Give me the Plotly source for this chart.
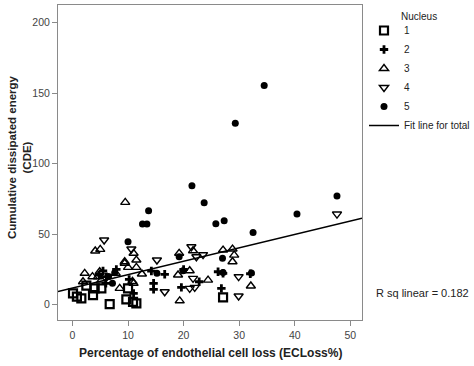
import plotly.graph_objects as go

# ---- data ----
n1_x = [0.1, 0.8, 1.6, 3.7, 4.0, 5.2, 2.5, 6.7, 9.7, 10.9, 10.0, 11.5, 27.1]
n1_y = [8.1, 5.7, 4.5, 6.9, 11.6, 11.6, 13.5, 0.5, 3.8, 2.1, 11.6, 1.0, 5.2]

n2_x = [6.1, 6.0, 7.9, 10.2, 11.0, 14.2, 16.6, 14.6, 14.6, 19.6, 22.8, 26.8, 26.2, 27.1, 5.5, 20.0, 4.8, 32.0]
n2_y = [19.9, 15.2, 25.1, 18.0, 8.1, 23.9, 21.6, 15.2, 10.9, 12.3, 16.3, 11.6, 23.4, 22.3, 24.0, 25.0, 21.0, 22.0]

n3_x = [9.5, 4.1, 5.0, 11.0, 21.7, 27.1, 28.8, 29.1, 28.8, 9.4, 11.5, 10.0, 11.5, 9.4, 2.2, 1.9, 3.6,
        4.9, 4.6, 5.2, 7.8, 8.5, 11.0, 12.5, 19.0, 21.1, 24.4, 19.2, 19.3, 32.1, 10.8]
n3_y = [72.6, 38.1, 39.3, 36.5, 38.3, 38.8, 39.5, 35.2, 30.5, 30.5, 31.7, 26.5, 26.5, 29.4, 22.3, 16.3, 19.9,
        23.4, 19.9, 17.5, 22.3, 11.6, 15.2, 21.8, 21.1, 24.1, 17.5, 36.5, 2.8, 13.3, 16.5]

n4_x = [5.7, 10.6, 21.4, 15.2, 22.3, 23.5, 21.7, 16.6, 21.1, 22.0, 29.9, 29.9, 47.6]
n4_y = [45.9, 39.5, 41.1, 31.7, 34.0, 35.5, 18.7, 9.2, 11.6, 12.3, 19.9, 6.2, 64.3]

n5_x = [34.5, 29.3, 47.6, 40.4, 13.7, 12.6, 13.4, 21.5, 23.7, 25.8, 27.3, 32.5, 10.0, 19.2, 27.0,
        15.2, 19.9, 7.6, 7.2, 27.1, 32.2, 6.5]
n5_y = [155.5, 128.6, 77.1, 64.3, 66.7, 57.2, 57.2, 84.4, 72.3, 57.4, 59.6, 51.3, 44.7, 34.0, 32.9,
        22.3, 24.1, 22.7, 15.2, 22.8, 22.5, 20.0]

fit_intercept = 11.8
fit_slope = 0.95
r_sq = 0.182

x_range = [-2.6, 52.1]
y_range = [-10.8, 212.5]
x_ticks = [0, 10, 20, 30, 40, 50]
y_ticks = [0, 50, 100, 150, 200]

series = [
    ("1", n1_x, n1_y, dict(symbol="square-open", size=8, line=dict(width=2.2, color="black"))),
    ("2", n2_x, n2_y, dict(symbol="cross", size=7, line=dict(width=0))),
    ("3", n3_x, n3_y, dict(symbol="triangle-up-open", size=8, line=dict(width=1.4, color="black"))),
    ("4", n4_x, n4_y, dict(symbol="triangle-down-open", size=8, line=dict(width=1.4, color="black"))),
    ("5", n5_x, n5_y, dict(symbol="circle", size=7, line=dict(width=0))),
]

FONT = "Liberation Sans, Arial"

fig = go.Figure()
for name, xs, ys, mk in series:
    fig.add_trace(go.Scatter(x=xs, y=ys, mode="markers", name=name,
                             marker=dict(color="black", **mk)))

fit_x = x_range
fit_y = [fit_intercept + fit_slope * v for v in fit_x]
fig.add_trace(go.Scatter(x=fit_x, y=fit_y, mode="lines", name="Fit line for total",
                         line=dict(color="black", width=1.5)))

axis_common = dict(showgrid=False, zeroline=False, showline=True, mirror=True,
                   linecolor="#8a8a8a", linewidth=1, ticks="outside", ticklen=5,
                   tickcolor="#8a8a8a", tickfont=dict(family=FONT, size=10.5, color="#444"))

W, H = 474 - 58 - 112, 366 - 5 - 46

fig.update_layout(
    width=474, height=366,
    margin=dict(l=58, r=112, t=5, b=46, autoexpand=False),
    paper_bgcolor="white", plot_bgcolor="white",
    xaxis=dict(range=x_range, tickvals=x_ticks, **axis_common),
    yaxis=dict(range=y_range, tickvals=y_ticks, **axis_common),
    showlegend=True,
    legend=dict(x=(364 - 58) / W, y=(320 - 16) / H, xanchor="left", yanchor="top", itemwidth=30,
                font=dict(family=FONT, size=10, color="#222"),
                bgcolor="rgba(0,0,0,0)", tracegroupgap=0),
    font=dict(family=FONT),
)

fig.add_annotation(text="Nucleus", xref="paper", yref="paper", x=(399 - 58) / W, y=(320 - 17) / H,
                   xanchor="left", yanchor="middle", showarrow=False,
                   font=dict(family=FONT, size=10, color="#222"))
fig.add_annotation(text=f"R sq linear = {r_sq}", xref="paper", yref="paper", x=(374 - 58) / W,
                   y=(320 - 293) / H, xanchor="left", yanchor="middle", showarrow=False,
                   font=dict(family=FONT, size=11, color="#222"))
fig.add_annotation(text="<b>Percentage of endothelial cell loss (ECLoss%)</b>", xref="paper", yref="paper",
                   x=0.5, y=(320 - 353) / H, xanchor="center", yanchor="middle", showarrow=False,
                   font=dict(family=FONT, size=12, color="#222"))
fig.add_annotation(text="<b>Cumulative dissipated energy<br>(CDE)</b>", xref="paper", yref="paper",
                   x=(20 - 58) / W, y=(320 - 157) / H, xanchor="center", yanchor="middle",
                   textangle=-90, showarrow=False,
                   font=dict(family=FONT, size=11.5, color="#222"))

fig.write_html("out.html", config={"displayModeBar": False},
               post_script="document.body.style.margin='0';document.body.style.overflow='hidden';")
